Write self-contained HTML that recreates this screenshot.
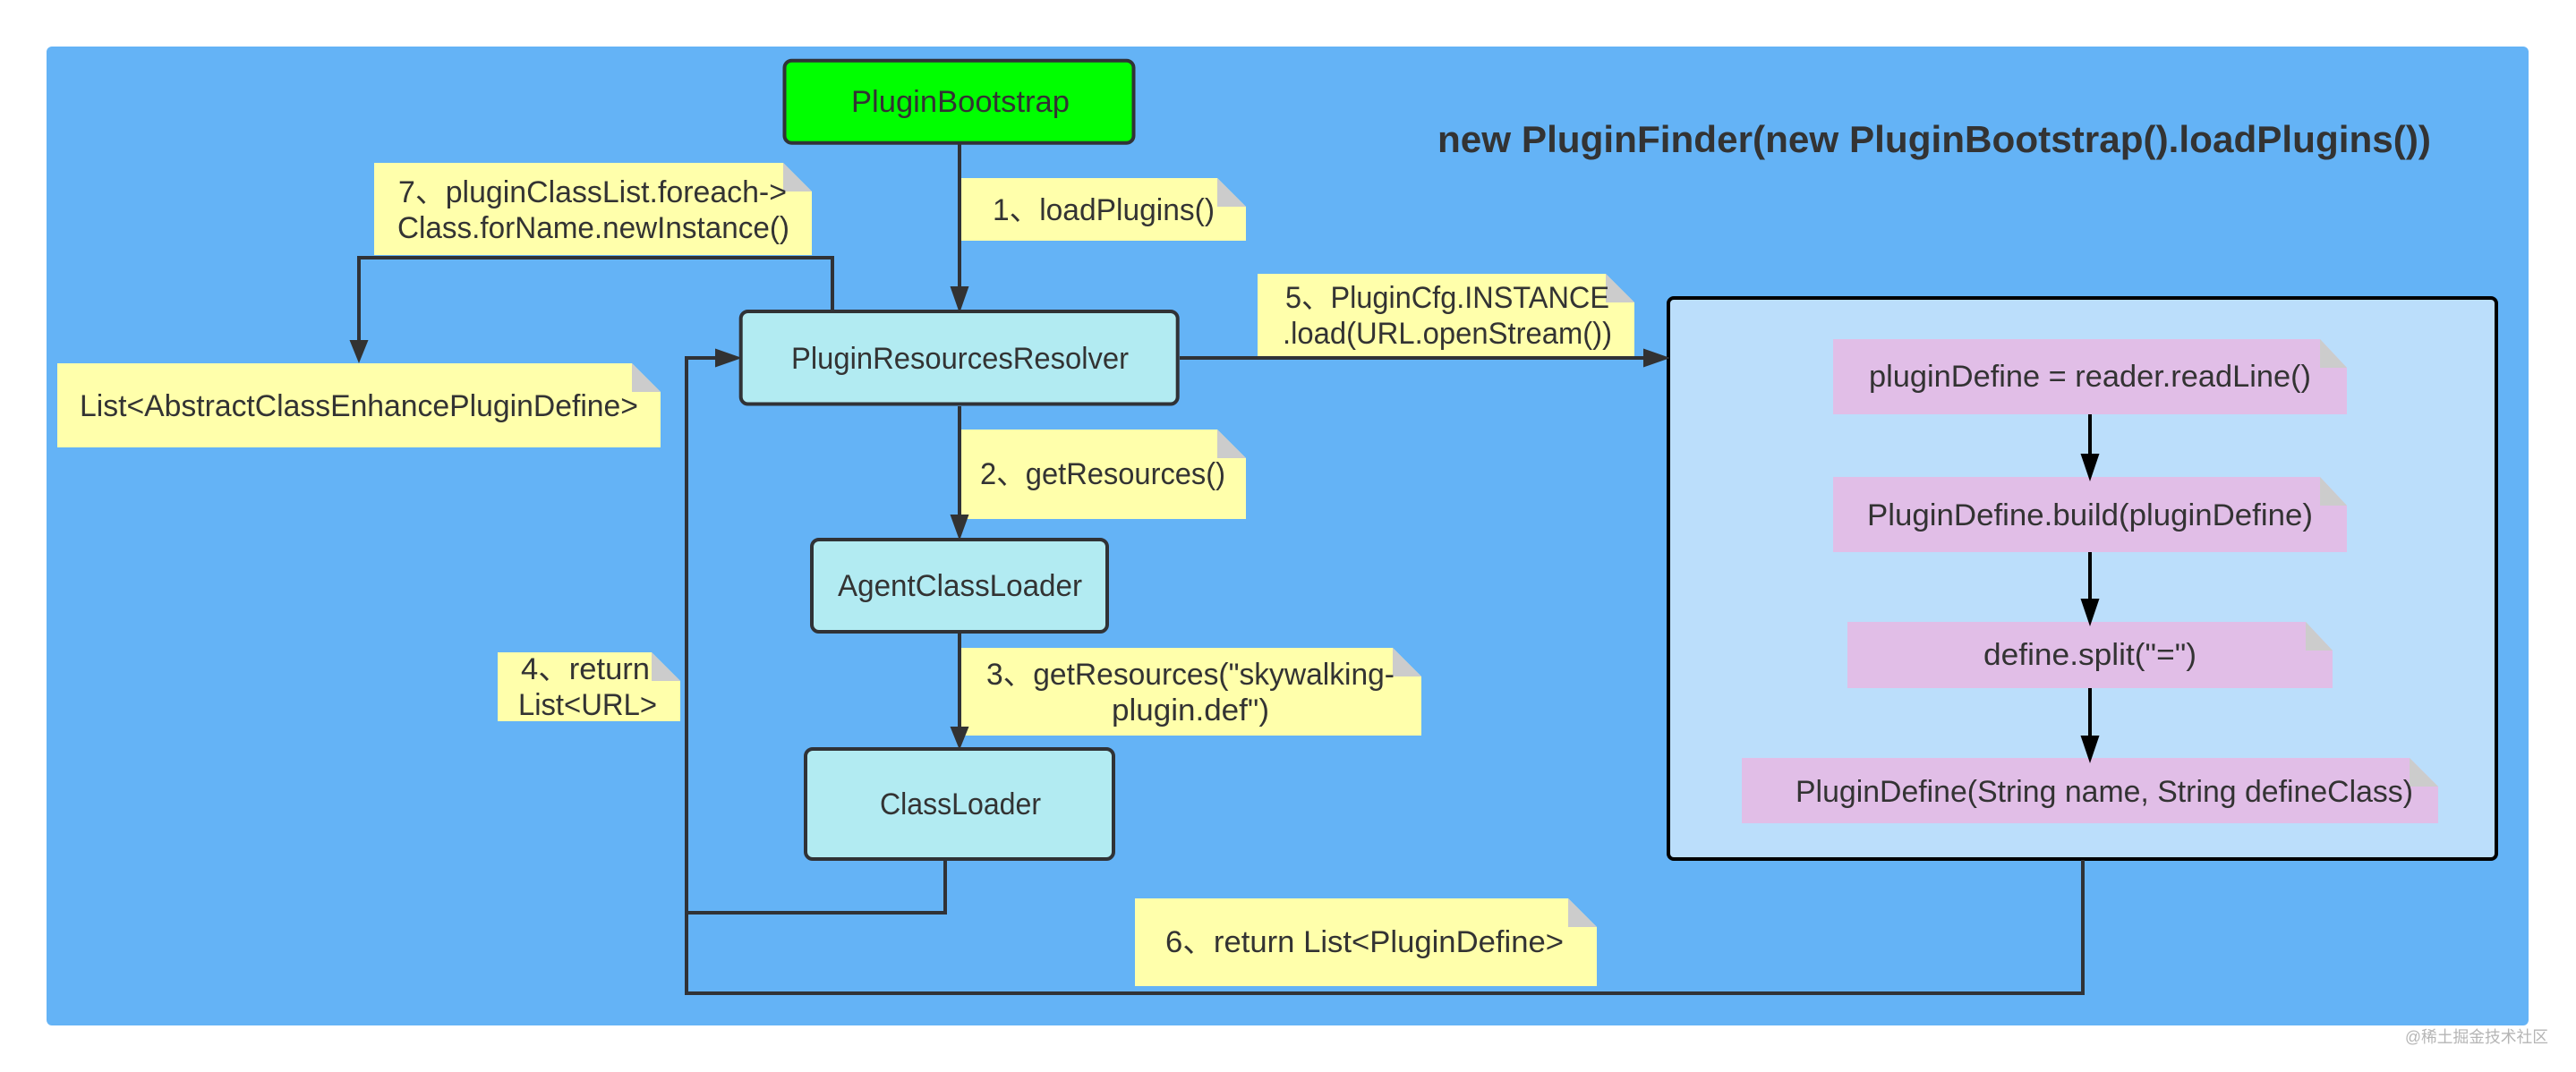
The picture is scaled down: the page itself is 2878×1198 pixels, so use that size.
<!DOCTYPE html>
<html lang="en">
<head>
<meta charset="utf-8">
<title>PluginFinder diagram</title>
<style>
html,body{margin:0;padding:0;background:#fff;width:2878px;height:1198px;overflow:hidden}
svg{display:block}
text{font-family:"Liberation Sans","Noto Sans CJK SC",sans-serif;font-size:34px;fill:#333}
.n{fill:#ffffab}.p{fill:#e1bee7}.f{fill:#ccc}
.b{fill:#b2ebf2;stroke:#303236;stroke-width:4}
.l{fill:none;stroke:#303236;stroke-width:4;stroke-linejoin:miter}
.k{fill:none;stroke:#000;stroke-width:4}
.h{fill:#323232}.hk{fill:#000}
</style>
</head>
<body>
<svg width="2878" height="1198" viewBox="0 0 2878 1198" xmlns="http://www.w3.org/2000/svg">
<rect x="52" y="52" width="2773" height="1094" rx="6" fill="#64b3f6"/>

<!-- container -->
<rect x="1864" y="333" width="925" height="627" rx="6" fill="#bbdefb" stroke="#000" stroke-width="4"/>

<!-- connectors -->
<path class="l" d="M1072 161V325"/>
<path class="l" d="M930 346V288H401V385"/>
<path class="l" d="M1072 454V578"/>
<path class="l" d="M1072 707V815"/>
<path class="l" d="M1318 400H1840"/>
<path class="l" d="M1056 961V1020H767"/>
<path class="l" d="M2327 961V1110H767V400H805"/>
<path class="k" d="M2335 463V512"/>
<path class="k" d="M2335 617V675"/>
<path class="k" d="M2335 769V828"/>

<!-- yellow notes -->
<polygon class="n" points="418,182 875,182 907,214 907,285 418,285"/><polygon class="f" points="875,182 875,214 907,214"/>
<polygon class="n" points="64,406 706,406 738,438 738,500 64,500"/><polygon class="f" points="706,406 706,438 738,438"/>
<polygon class="n" points="1074,199 1360,199 1392,231 1392,269 1074,269"/><polygon class="f" points="1360,199 1360,231 1392,231"/>
<polygon class="n" points="1405,306 1794,306 1826,338 1826,398 1405,398"/><polygon class="f" points="1794,306 1794,338 1826,338"/>
<polygon class="n" points="1074,480 1360,480 1392,512 1392,580 1074,580"/><polygon class="f" points="1360,480 1360,512 1392,512"/>
<polygon class="n" points="1074,724 1556,724 1588,756 1588,822 1074,822"/><polygon class="f" points="1556,724 1556,756 1588,756"/>
<polygon class="n" points="556,729 728,729 760,761 760,806 556,806"/><polygon class="f" points="728,729 728,761 760,761"/>
<polygon class="n" points="1268,1004 1752,1004 1784,1036 1784,1102 1268,1102"/><polygon class="f" points="1752,1004 1752,1036 1784,1036"/>

<!-- pink notes -->
<polygon class="p" points="2048,379 2592,379 2622,411 2622,463 2048,463"/><polygon class="f" points="2592,379 2592,411 2622,411"/>
<polygon class="p" points="2048,533 2592,533 2622,565 2622,617 2048,617"/><polygon class="f" points="2592,533 2592,565 2622,565"/>
<polygon class="p" points="2064,695 2576,695 2606,727 2606,769 2064,769"/><polygon class="f" points="2576,695 2576,727 2606,727"/>
<polygon class="p" points="1946,847 2692,847 2724,879 2724,920 1946,920"/><polygon class="f" points="2692,847 2692,879 2724,879"/>

<!-- boxes -->
<rect x="876.5" y="67.7" width="390" height="92" rx="8" fill="#00ff00" stroke="#303236" stroke-width="4"/>
<rect x="827.7" y="348" width="488" height="103.5" rx="8" class="b"/>
<rect x="907" y="603" width="330" height="103" rx="8" class="b"/>
<rect x="900" y="837" width="344" height="123" rx="8" class="b"/>

<!-- arrowheads -->
<polygon class="h" points="1061.5,320 1082.5,320 1072,350"/>
<polygon class="h" points="390.5,380 411.5,380 401,406"/>
<polygon class="h" points="1061.5,575 1082.5,575 1072,604"/>
<polygon class="h" points="1061.5,812 1082.5,812 1072,838"/>
<polygon class="h" points="799,389.5 799,410.5 829,400"/>
<polygon class="h" points="1836,389.5 1836,410.5 1866,400"/>
<polygon class="hk" points="2324.5,507 2345.5,507 2335,538"/>
<polygon class="hk" points="2324.5,669 2345.5,669 2335,700"/>
<polygon class="hk" points="2324.5,822 2345.5,822 2335,853"/>

<!-- labels -->
<text x="1606" y="170" style="font-size:42px;font-weight:bold" textLength="1110" lengthAdjust="spacingAndGlyphs">new PluginFinder(new PluginBootstrap().loadPlugins())</text>
<text x="951" y="125" textLength="244" lengthAdjust="spacingAndGlyphs">PluginBootstrap</text>
<text x="884" y="412" textLength="377" lengthAdjust="spacingAndGlyphs">PluginResourcesResolver</text>
<text x="936" y="666" textLength="273" lengthAdjust="spacingAndGlyphs">AgentClassLoader</text>
<text x="983" y="910" textLength="180" lengthAdjust="spacingAndGlyphs">ClassLoader</text>
<text x="445" y="226" textLength="434" lengthAdjust="spacingAndGlyphs">7、pluginClassList.foreach-&gt;</text>
<text x="444" y="266" textLength="438" lengthAdjust="spacingAndGlyphs">Class.forName.newInstance()</text>
<text x="89" y="465" textLength="624" lengthAdjust="spacingAndGlyphs">List&lt;AbstractClassEnhancePluginDefine&gt;</text>
<text x="1109" y="246" textLength="248" lengthAdjust="spacingAndGlyphs">1、loadPlugins()</text>
<text x="1436" y="344" textLength="362" lengthAdjust="spacingAndGlyphs">5、PluginCfg.INSTANCE</text>
<text x="1433" y="384" textLength="368" lengthAdjust="spacingAndGlyphs">.load(URL.openStream())</text>
<text x="1095" y="541" textLength="274" lengthAdjust="spacingAndGlyphs">2、getResources()</text>
<text x="1102" y="765" textLength="456" lengthAdjust="spacingAndGlyphs">3、getResources("skywalking-</text>
<text x="1242" y="805" textLength="176" lengthAdjust="spacingAndGlyphs">plugin.def")</text>
<text x="582" y="759" textLength="144" lengthAdjust="spacingAndGlyphs">4、return</text>
<text x="579" y="799" textLength="155" lengthAdjust="spacingAndGlyphs">List&lt;URL&gt;</text>
<text x="1302" y="1064" textLength="445" lengthAdjust="spacingAndGlyphs">6、return List&lt;PluginDefine&gt;</text>
<text x="2088" y="432" textLength="494" lengthAdjust="spacingAndGlyphs">pluginDefine = reader.readLine()</text>
<text x="2086" y="587" textLength="498" lengthAdjust="spacingAndGlyphs">PluginDefine.build(pluginDefine)</text>
<text x="2216" y="743" textLength="238" lengthAdjust="spacingAndGlyphs">define.split("=")</text>
<text x="2006" y="896" textLength="690" lengthAdjust="spacingAndGlyphs">PluginDefine(String name, String defineClass)</text>
<text x="2687" y="1165" style="font-size:18px;fill:#b5b5b5" textLength="160" lengthAdjust="spacingAndGlyphs">@稀土掘金技术社区</text>
</svg>
</body>
</html>
